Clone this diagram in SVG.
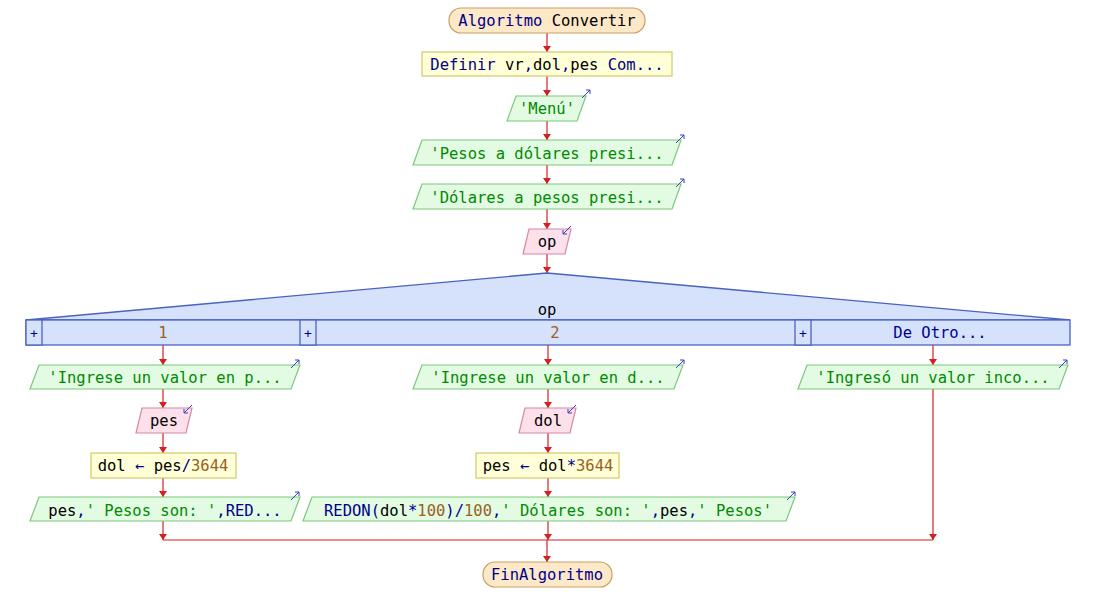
<svg xmlns="http://www.w3.org/2000/svg" width="1103" height="603" viewBox="0 0 1103 603">
<style>
text{font-family:"DejaVu Sans Mono",monospace;font-size:15.5px;fill:#000;text-anchor:middle}
.k{fill:#00008b}.s{fill:#008a00}.n{fill:#9a6024}
.term{fill:#fde8c8;stroke:#c9a064;stroke-width:1.2}
.proc{fill:#ffffd8;stroke:#d2c866;stroke-width:1.2}
.out{fill:#e2fbe2;stroke:#7cc87c;stroke-width:1.2}
.in{fill:#fde0ea;stroke:#d488a8;stroke-width:1.2}
.sw{fill:#d6e2fc;stroke:#4a62c2;stroke-width:1.3}
.ln{stroke:#d42020;stroke-width:1.2;fill:none}
.ic{stroke:#3040c0;stroke-width:1;fill:none}
</style>
<defs>
<marker id="a" markerWidth="8" markerHeight="8" refX="4" refY="6" orient="auto-start-reverse" markerUnits="userSpaceOnUse" viewBox="0 0 8 8"><path d="M0,0 L8,0 L4,6z" fill="#d42020" transform="rotate(-90 4 4) rotate(90 4 4)"/></marker>
<marker id="d" markerWidth="8" markerHeight="7" refX="4" refY="7" markerUnits="userSpaceOnUse" viewBox="0 0 8 7"><path d="M0,1 L8,1 L4,7z" fill="#d42020"/></marker>
</defs>
<g id="connectors">
<path class="ln" d="M547,33V52" marker-end="url(#d)"/>
<path class="ln" d="M547,76V96" marker-end="url(#d)"/>
<path class="ln" d="M547,121V140" marker-end="url(#d)"/>
<path class="ln" d="M547,165V184" marker-end="url(#d)"/>
<path class="ln" d="M547,209V229" marker-end="url(#d)"/>
<path class="ln" d="M547,254V273" marker-end="url(#d)"/>
<path class="ln" d="M163,345V365" marker-end="url(#d)"/>
<path class="ln" d="M163,389V408" marker-end="url(#d)"/>
<path class="ln" d="M163,433V453" marker-end="url(#d)"/>
<path class="ln" d="M163,478V497" marker-end="url(#d)"/>
<path class="ln" d="M163,521V540" marker-end="url(#d)"/>
<path class="ln" d="M548,345V365" marker-end="url(#d)"/>
<path class="ln" d="M548,389V408" marker-end="url(#d)"/>
<path class="ln" d="M548,433V453" marker-end="url(#d)"/>
<path class="ln" d="M548,478V497" marker-end="url(#d)"/>
<path class="ln" d="M548,521V540" marker-end="url(#d)"/>
<path class="ln" d="M933,345V365" marker-end="url(#d)"/>
<path class="ln" d="M933,389V540" marker-end="url(#d)"/>
<path class="ln" d="M163,540H933"/>
<path class="ln" d="M547,540V562" marker-end="url(#d)"/>
</g>
<g id="start"><rect class="term" x="449" y="8" width="196" height="25" rx="12"/><text x="547" y="26"><tspan class="k">Algoritmo</tspan> Convertir</text></g>
<g id="definir"><rect class="proc" x="422" y="52" width="250" height="24"/><text x="547" y="70"><tspan class="k">Definir</tspan> vr<tspan class="k">,</tspan>dol<tspan class="k">,</tspan>pes <tspan class="k">Com...</tspan></text></g>
<g id="menu"><path class="out" d="M516,96H586L577,121H507z"/><path class="ic" d="M582,98L590,90M586,90H590V94"/><text x="547" y="114" class="s">'Menú'</text></g>
<g id="pesos"><path class="out" d="M422,140H681L672,165H413z"/><path class="ic" d="M676,143L684,135M680,135H684V139"/><text x="547" y="159" class="s">'Pesos a dólares presi...</text></g>
<g id="dolares"><path class="out" d="M422,184H681L672,209H413z"/><path class="ic" d="M676,187L684,179M680,179H684V183"/><text x="547" y="203" class="s">'Dólares a pesos presi...</text></g>
<g id="leerop"><path class="in" d="M529,229H571L565,254H523z"/><path class="ic" d="M571,226L563,234M563,230V234H567"/><text x="547" y="247">op</text></g>
<g id="switch">
<path class="sw" d="M547,273L1070,320H26z"/>
<text x="547" y="315">op</text>
<rect class="sw" x="26" y="320" width="1044" height="25"/>
<rect class="sw" x="26" y="320" width="16" height="25"/><rect class="sw" x="300" y="320" width="16" height="25"/><rect class="sw" x="795" y="320" width="16" height="25"/>
<text x="34" y="338" class="k" style="font-size:13px">+</text><text x="308" y="338" class="k" style="font-size:13px">+</text><text x="803" y="338" class="k" style="font-size:13px">+</text>
<text x="163" y="338" class="n">1</text><text x="555" y="338" class="n">2</text><text x="940" y="338" class="k">De Otro...</text>
</g>
<g id="in1"><path class="out" d="M39,365H300L291,389H30z"/><path class="ic" d="M291,368L299,360M295,360H299V364"/><text x="165" y="383" class="s">'Ingrese un valor en p...</text></g>
<g id="readpes"><path class="in" d="M142,408H192L186,433H136z"/><path class="ic" d="M192,405L184,413M184,409V413H188"/><text x="164" y="426">pes</text></g>
<g id="calc1"><rect class="proc" x="91" y="453" width="145" height="25"/><text x="163" y="471">dol <tspan class="k">←</tspan> pes<tspan class="k">/</tspan><tspan class="n">3644</tspan></text></g>
<g id="out1"><path class="out" d="M39,497H300L291,521H30z"/><path class="ic" d="M291,500L299,492M295,492H299V496"/><text x="165" y="516">pes<tspan class="k">,</tspan><tspan class="s">' Pesos son: '</tspan><tspan class="k">,RED...</tspan></text></g>
<g id="in2"><path class="out" d="M422,365H683L674,389H413z"/><path class="ic" d="M676,368L684,360M680,360H684V364"/><text x="548" y="383" class="s">'Ingrese un valor en d...</text></g>
<g id="readdol"><path class="in" d="M525,408H576L570,433H519z"/><path class="ic" d="M576,405L568,413M568,409V413H572"/><text x="548" y="426">dol</text></g>
<g id="calc2"><rect class="proc" x="476" y="453" width="143" height="25"/><text x="548" y="471">pes <tspan class="k">←</tspan> dol<tspan class="k">*</tspan><tspan class="n">3644</tspan></text></g>
<g id="out2"><path class="out" d="M312,497H795L786,521H303z"/><path class="ic" d="M787,500L795,492M791,492H795V496"/><text x="548" y="516"><tspan class="k">REDON(</tspan>dol<tspan class="k">*</tspan><tspan class="n">100</tspan><tspan class="k">)/</tspan><tspan class="n">100</tspan><tspan class="k">,</tspan><tspan class="s">' Dólares son: '</tspan><tspan class="k">,</tspan>pes<tspan class="k">,</tspan><tspan class="s">' Pesos'</tspan></text></g>
<g id="in3"><path class="out" d="M807,365H1068L1059,389H798z"/><path class="ic" d="M1059,368L1067,360M1063,360H1067V364"/><text x="933" y="383" class="s">'Ingresó un valor inco...</text></g>
<g id="end"><rect class="term" x="483" y="562" width="129" height="25" rx="12"/><text x="547" y="580" class="k">FinAlgoritmo</text></g>
</svg>
